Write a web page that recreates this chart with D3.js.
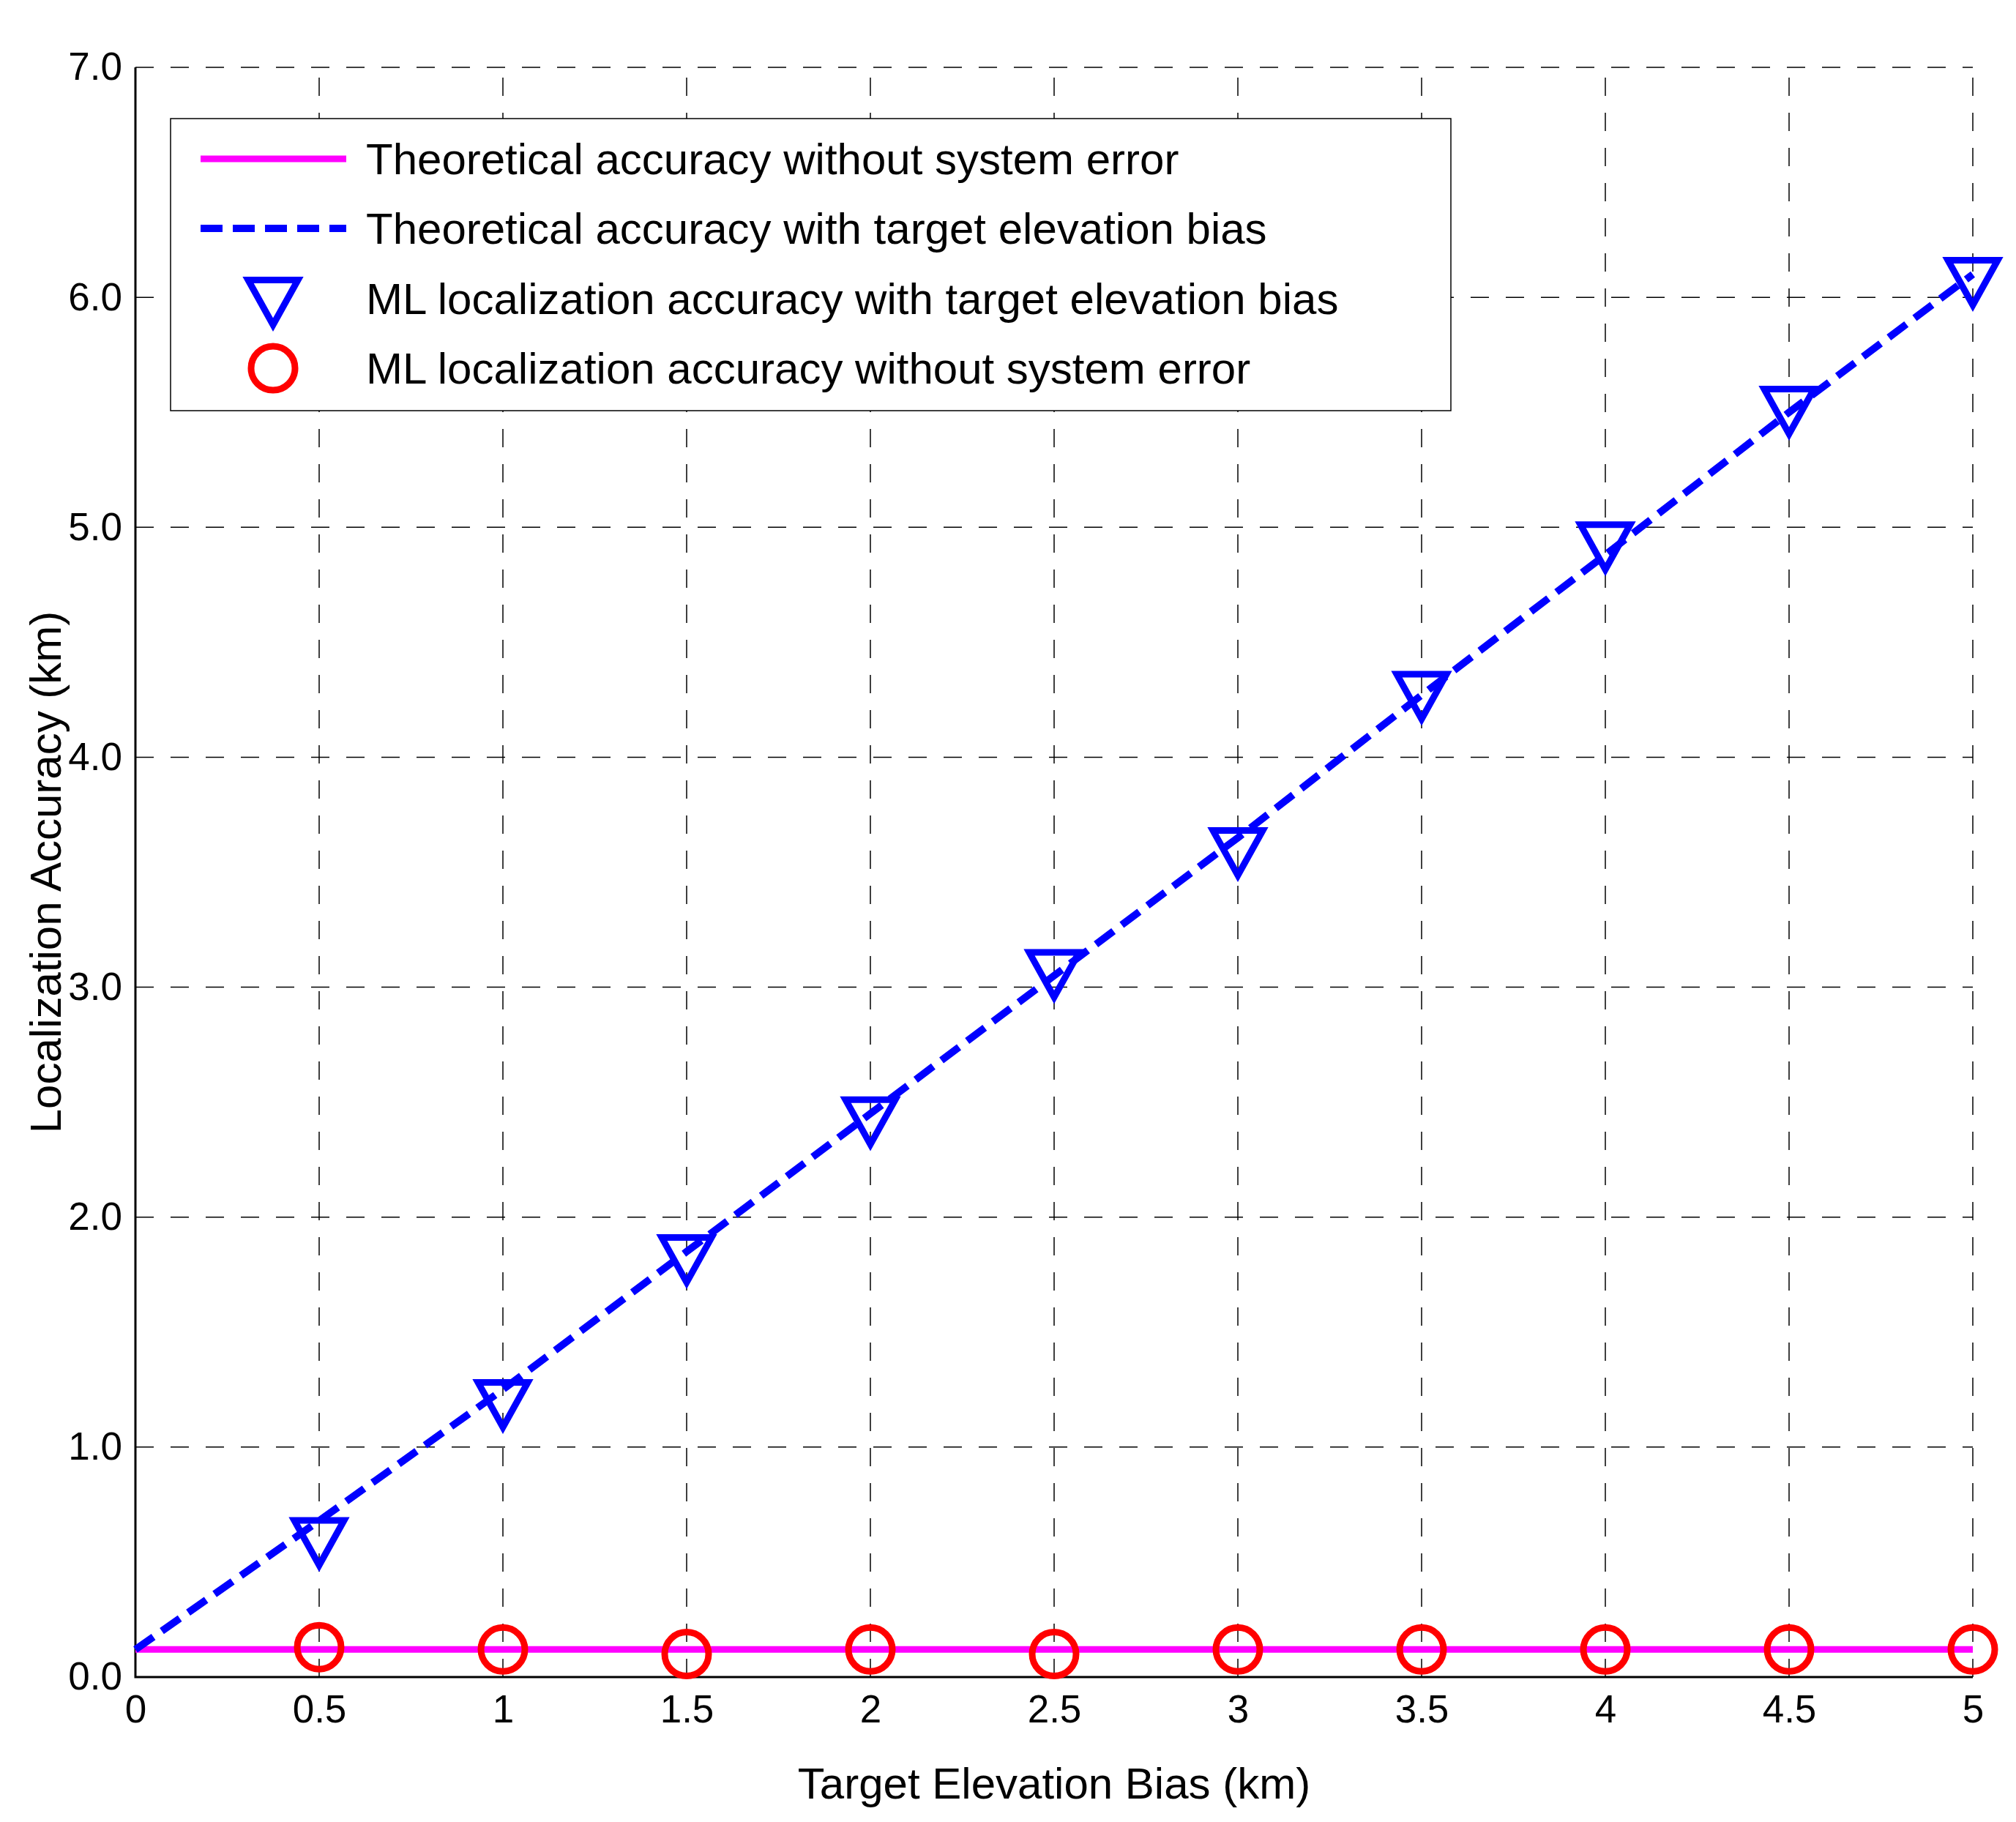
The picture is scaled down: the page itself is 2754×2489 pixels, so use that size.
<!DOCTYPE html>
<html><head><meta charset="utf-8">
<script src="https://cdn.jsdelivr.net/npm/d3@7"></script>
<style>body{margin:0;background:#fff}text{font-family:"Liberation Sans",Arial,sans-serif}</style>
</head><body>
<svg id="c" width="2754" height="2489"></svg>
<script>
var biasX = [0, 0.5, 1, 1.5, 2, 2.5, 3, 3.5, 4, 4.5, 5];
var theoNoErr = [0.12, 0.12, 0.12, 0.12, 0.12, 0.12, 0.12, 0.12, 0.12, 0.12, 0.12];
var theoBias = [0.12, 0.68, 1.25, 1.85, 2.45, 3.05, 3.65, 4.27, 4.88, 5.5, 6.1];
var mlX = [0.5, 1, 1.5, 2, 2.5, 3, 3.5, 4, 4.5, 5];
var mlBias = [0.6, 1.2, 1.83, 2.43, 3.07, 3.6, 4.28, 4.93, 5.52, 6.08];
var mlNoErr = [0.13, 0.12, 0.1, 0.12, 0.1, 0.12, 0.12, 0.12, 0.12, 0.12];
var xTicks = [0, 0.5, 1, 1.5, 2, 2.5, 3, 3.5, 4, 4.5, 5];
var yTicks = [0, 1, 2, 3, 4, 5, 6, 7];
var legendLabels = ["Theoretical accuracy without system error",
  "Theoretical accuracy with target elevation bias",
  "ML localization accuracy with target elevation bias",
  "ML localization accuracy without system error"];

var L = 185, R = 2695, T = 92, B = 2291;
var svg = d3.select("#c");
var x = d3.scaleLinear().domain([0, 5]).range([L, R]);
var y = d3.scaleLinear().domain([0, 7]).range([B, T]);

// grid
var grid = svg.append("g").attr("stroke", "#000").attr("stroke-width", 1.5).attr("stroke-dasharray", "25,23");
xTicks.forEach(function(t) {
	grid.append("line").attr("x1", x(t)).attr("x2", x(t)).attr("y1", B).attr("y2", T);
});
yTicks.forEach(function(t) {
	grid.append("line").attr("x1", L).attr("x2", R).attr("y1", y(t)).attr("y2", y(t));
});

var xa = svg.append("g").attr("transform", "translate(0," + B + ")")
	.call(d3.axisBottom(x).tickValues(xTicks).tickFormat(d3.format("")).tickSize(0).tickPadding(24));
var ya = svg.append("g").attr("transform", "translate(" + L + ",0)")
	.call(d3.axisLeft(y).tickValues(yTicks).tickSize(0).tickPadding(18));
[xa, ya].forEach(function(a) {
	a.selectAll("text").attr("font-size", 53).attr("fill", "#000");
	a.select(".domain").remove();
});
svg.append("path").attr("fill", "none").attr("stroke", "#000").attr("stroke-width", 3)
	.attr("d", "M" + L + "," + T + "V" + B + "H" + R);

// lines
var line = d3.line().x(function(d) { return x(d[0]); }).y(function(d) { return y(d[1]); });
svg.append("path").datum(d3.zip(biasX, theoNoErr)).attr("d", line)
	.attr("fill", "none").attr("stroke", "#ff00ff").attr("stroke-width", 9);
svg.append("path").datum(d3.zip(biasX, theoBias)).attr("d", line)
	.attr("fill", "none").attr("stroke", "#0000ff").attr("stroke-width", 10).attr("stroke-dasharray", "30,14");

var tri = function(cx, cy) {
	var s = 34;
	return "M" + (cx - s) + "," + (cy - s * 0.75) + "L" + (cx + s) + "," + (cy - s * 0.75) + "L" + cx + "," + (cy + s * 1.05) + "Z";
};
d3.zip(mlX, mlBias).forEach(function(d) {
	svg.append("path").attr("d", tri(x(d[0]), y(d[1]))).attr("fill", "none")
		.attr("stroke", "#0000ff").attr("stroke-width", 9);
});
d3.zip(mlX, mlNoErr).forEach(function(d) {
	svg.append("ellipse").attr("cx", x(d[0])).attr("cy", y(d[1])).attr("rx", 30).attr("ry", 30)
		.attr("fill", "none").attr("stroke", "#ff0000").attr("stroke-width", 9);
});

// legend
svg.append("rect").attr("x", 233).attr("y", 162).attr("width", 1749).attr("height", 399)
	.attr("fill", "#fff").attr("stroke", "#000").attr("stroke-width", 1.5);
var rows = [217, 312, 408, 503];
rows.forEach(function(ry, i) {
	if (i == 0)
		svg.append("line").attr("x1", 274).attr("x2", 473).attr("y1", ry).attr("y2", ry).attr("stroke", "#ff00ff").attr("stroke-width", 9);
	else if (i == 1)
		svg.append("line").attr("x1", 274).attr("x2", 473).attr("y1", ry).attr("y2", ry).attr("stroke", "#0000ff").attr("stroke-width", 10).attr("stroke-dasharray", "30,14");
	else if (i == 2)
		svg.append("path").attr("d", tri(373, ry)).attr("fill", "none").attr("stroke", "#0000ff").attr("stroke-width", 9);
	else
		svg.append("circle").attr("cx", 373).attr("cy", ry).attr("r", 30).attr("fill", "none").attr("stroke", "#ff0000").attr("stroke-width", 9);
	svg.append("text").attr("x", 500).attr("y", ry).attr("dy", "0.35em").attr("font-size", 60).text(legendLabels[i]);
});

svg.append("text").attr("x", (L + R) / 2).attr("y", 2436).attr("dy", "0.35em").attr("text-anchor", "middle")
	.attr("font-size", 60).text("Target Elevation Bias (km)");
svg.append("text").attr("transform", "translate(62," + (T + B) / 2 + ") rotate(-90)").attr("dy", "0.35em")
	.attr("text-anchor", "middle").attr("font-size", 60).text("Localization Accuracy (km)");
</script>
</body></html>
